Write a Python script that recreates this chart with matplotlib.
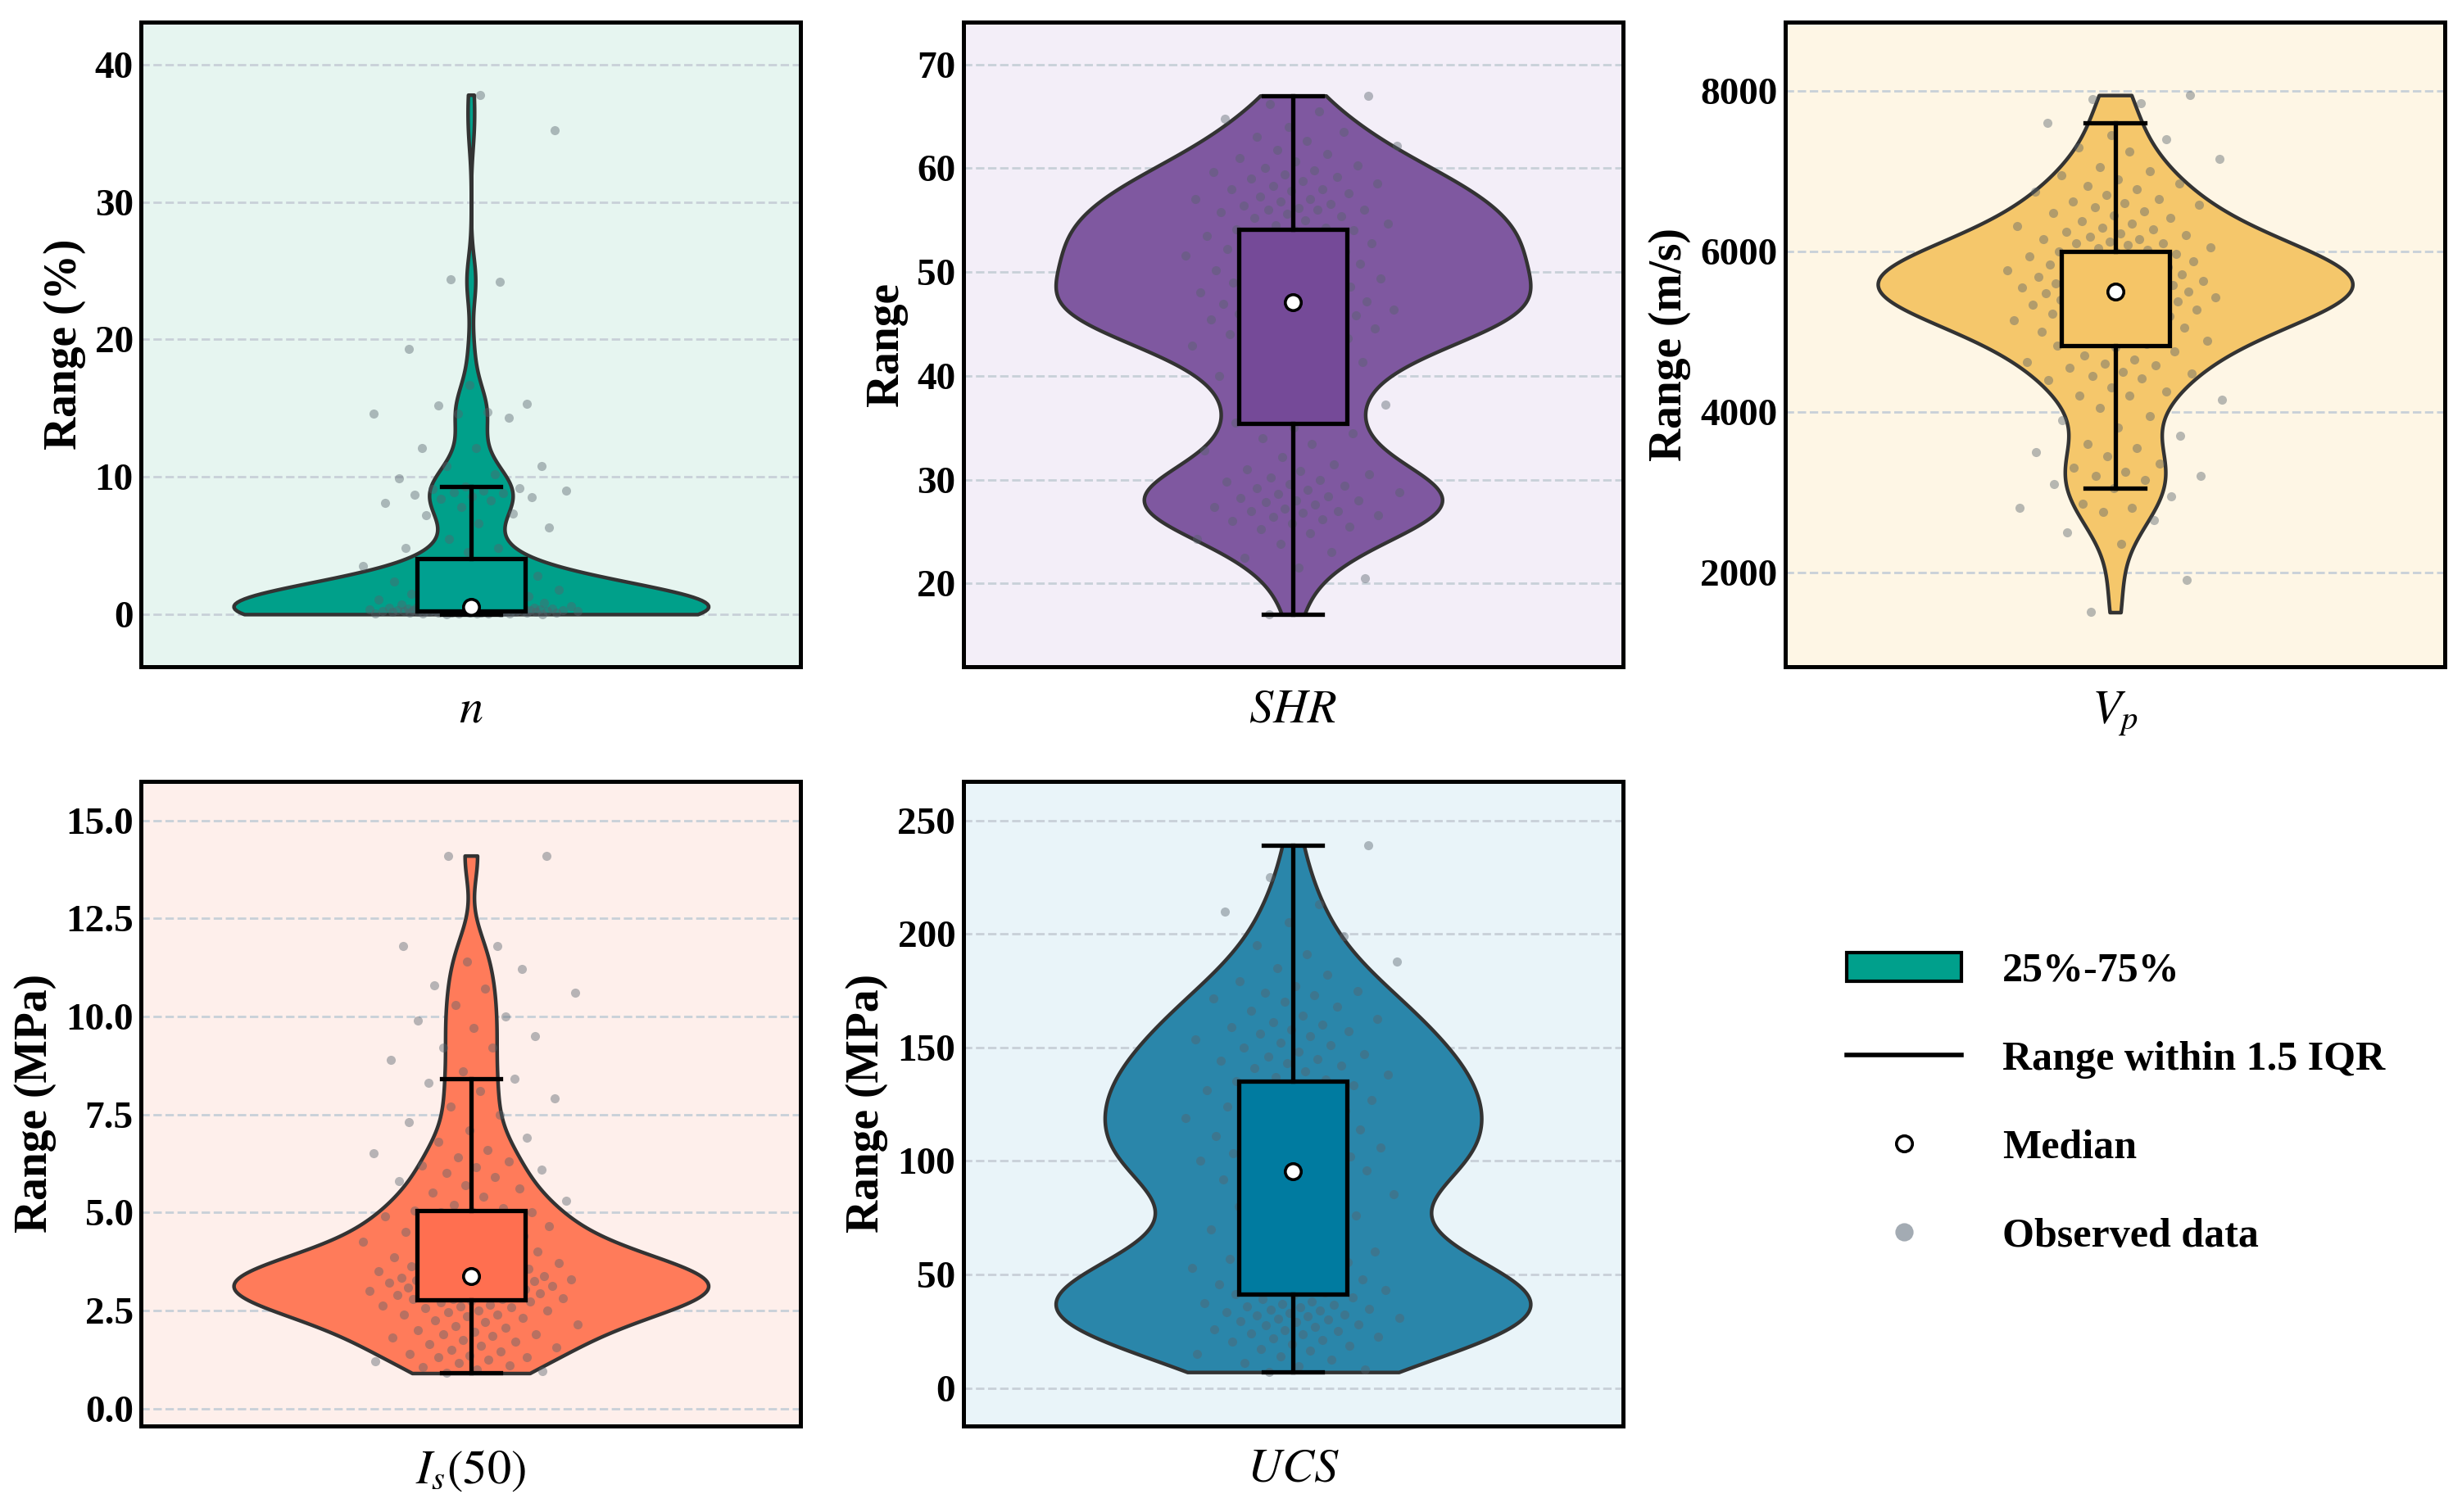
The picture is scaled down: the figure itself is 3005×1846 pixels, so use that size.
import numpy as np
import matplotlib
matplotlib.use("Agg")
import matplotlib.pyplot as plt
from matplotlib.patches import Patch, Rectangle
from matplotlib.lines import Line2D

plt.rcParams["font.family"] = ["Liberation Serif", "DejaVu Serif"]
plt.rcParams["mathtext.fontset"] = "stix"

n_vals = [0.0, 0.02, 0.03, 0.05, 0.05, 0.06, 0.08, 0.08, 0.1, 0.1, 0.1, 0.11, 0.12, 0.12, 0.13,
          0.14, 0.15, 0.15, 0.15, 0.16, 0.17, 0.18, 0.18, 0.19, 0.2, 0.2, 0.2, 0.21, 0.21, 0.22,
          0.22, 0.23, 0.23, 0.23, 0.24, 0.24, 0.24, 0.25, 0.25, 0.25,
          0.26, 0.26, 0.27, 0.27, 0.28, 0.28, 0.29, 0.29, 0.3, 0.3, 0.3, 0.31, 0.31, 0.32, 0.32,
          0.33, 0.33, 0.34, 0.34, 0.35, 0.35, 0.36, 0.36, 0.37, 0.38, 0.38, 0.39, 0.4, 0.4, 0.41,
          0.42, 0.42, 0.43, 0.44, 0.45, 0.46, 0.47, 0.48, 0.49, 0.5,
          0.52, 0.55, 0.58, 0.6, 0.62, 0.65, 0.68, 0.7, 0.75, 0.8, 0.85, 0.9, 0.95, 1.0, 1.0,
          1.05, 1.1, 1.2, 1.3, 1.4, 1.5, 1.6, 1.7, 1.8, 1.9, 2.0, 2.1, 2.2, 2.4, 2.5,
          2.6, 2.8, 3.0, 3.1, 3.2, 3.4, 3.5, 3.6, 3.8, 3.9,
          4.5, 4.8, 4.8, 5.5, 6.3, 6.6, 7.2, 7.3, 7.8, 8.1, 8.3, 8.4, 8.5, 8.6, 8.7,
          8.8, 8.9, 9.0, 9.0, 9.1, 9.2, 9.3, 9.9, 10.2, 10.8, 10.8, 12.1, 12.1, 14.3, 14.6,
          14.6, 14.7, 15.2, 15.3, 16.7, 19.3, 24.2, 24.4, 35.2, 37.8]

shr_vals = [17.0, 20.5, 21.5, 22.5, 23.0, 23.8, 24.3, 24.8,
            25.2, 25.5, 25.8, 26.0, 26.2, 26.4, 26.6, 26.8, 27.0, 27.0,
            27.2, 27.4, 27.6, 27.8, 28.0, 28.0, 28.2, 28.4, 28.6, 28.8,
            29.0, 29.2, 29.4, 29.6, 29.8, 30.0, 30.2, 30.5, 30.8, 31.0,
            31.5, 32.2, 32.8, 33.4, 34.0, 34.5, 35.0,
            35.5, 36.0, 36.6, 37.2, 37.8, 38.4, 39.0, 39.5, 40.0, 40.5, 41.0, 41.3, 41.6, 42.0,
            42.3, 42.6, 42.9, 43.2, 43.4, 43.6, 43.8, 44.0, 44.2, 44.4,
            44.6, 44.8, 45.0, 45.0, 45.2, 45.4, 45.5, 45.6, 45.8, 46.0,
            46.0, 46.2, 46.3, 46.4, 46.5, 46.6, 46.7, 46.8, 46.9, 47.0, 47.0,
            47.2, 47.4, 47.6, 47.8, 48.0, 48.0, 48.2, 48.4, 48.6, 48.8,
            49.0, 49.0, 49.2, 49.4, 49.6, 49.8, 50.0, 50.0, 50.2, 50.4,
            50.6, 50.8, 51.0, 51.0, 51.2, 51.4, 51.6, 51.8, 52.0, 52.0,
            52.0, 52.2, 52.4, 52.6, 52.8, 53.0, 53.0, 53.2, 53.4, 53.5,
            53.6, 53.8, 54.0, 54.0, 54.1,
            54.3, 54.5, 54.7, 55.0, 55.2, 55.4, 55.6, 55.8, 56.0, 56.0,
            56.0, 56.2, 56.4, 56.6, 56.8, 57.0, 57.0, 57.3, 57.6, 57.8,
            58.0, 58.0, 58.3, 58.5, 58.8, 59.0, 59.2, 59.4, 59.6, 59.8, 60.0,
            60.3, 60.7, 61.0, 61.4, 61.8, 62.2, 62.6, 63.0, 63.5, 64.0, 64.8, 65.5, 66.2, 67.0]

vp_vals = [1500, 1900, 2350, 2500, 2650, 2750, 2800, 2800, 2850, 2950,
           3050, 3100, 3150, 3200, 3200, 3250, 3300, 3350, 3450, 3500, 3550, 3600, 3700,
           3800, 3900, 3950, 4050, 4150, 4200, 4200, 4250, 4300, 4400,
           4420, 4450, 4480, 4500, 4550, 4580, 4600, 4620, 4650, 4700, 4750, 4800,
           4830, 4850, 4870, 4890, 4900, 4920, 4950, 4970, 5000, 5000, 5020, 5050, 5070, 5090, 5100,
           5120, 5140, 5150, 5170, 5190, 5200, 5220, 5240, 5250, 5270, 5290, 5300, 5310, 5320, 5340,
           5350, 5360, 5380, 5390, 5400, 5410, 5420, 5430, 5440, 5450, 5460, 5470, 5480, 5480, 5490,
           5500, 5510, 5520, 5530, 5540, 5550, 5560, 5570, 5580, 5590, 5600, 5610, 5620, 5630, 5640,
           5650, 5660, 5670, 5680, 5690, 5700, 5710, 5720, 5730, 5750, 5760, 5770, 5780, 5800, 5810,
           5820, 5840, 5850, 5860, 5880, 5890, 5900, 5910, 5920, 5940, 5950, 5960, 5970, 5990, 6000,
           6020, 6040, 6050, 6080, 6100, 6100, 6120, 6150, 6150, 6180, 6200, 6220, 6250, 6280, 6300,
           6320, 6350, 6380, 6420, 6450, 6480, 6500, 6550, 6580, 6600, 6620, 6650, 6700, 6750, 6780,
           6820, 6850, 6900, 6950, 7000, 7050, 7150, 7250, 7300, 7400, 7450, 7600, 7850, 7900, 7950]

is_vals = [0.9, 0.95, 1.0, 1.05, 1.1, 1.15, 1.2, 1.25, 1.3, 1.3, 1.35, 1.4, 1.45, 1.5,
           1.55, 1.6, 1.65, 1.7, 1.75, 1.8, 1.85, 1.9, 1.9, 1.95, 2.0,
           2.05, 2.1, 2.15, 2.2, 2.25, 2.3, 2.35, 2.4, 2.4, 2.45, 2.5, 2.5,
           2.55, 2.58, 2.6, 2.62, 2.65, 2.7, 2.72, 2.75,
           2.78, 2.8, 2.8, 2.82, 2.84, 2.85, 2.87, 2.88, 2.9, 2.9, 2.92, 2.94, 2.95, 2.97, 2.98,
           3.0, 3.0, 3.02, 3.04, 3.05, 3.07, 3.08, 3.1, 3.1, 3.12, 3.14, 3.15, 3.17, 3.18, 3.2,
           3.2, 3.22, 3.24, 3.25, 3.26, 3.27, 3.28, 3.29, 3.3, 3.31, 3.32, 3.33, 3.34, 3.35, 3.36,
           3.38, 3.4, 3.42, 3.45, 3.48, 3.5, 3.5, 3.53, 3.56, 3.6, 3.62, 3.65, 3.68, 3.7, 3.72,
           3.75, 3.8, 3.82, 3.85, 3.9, 3.95, 4.0,
           4.05, 4.1, 4.15, 4.2, 4.25, 4.3, 4.35, 4.4, 4.45, 4.5, 4.55, 4.6, 4.65, 4.7, 4.75,
           4.8, 4.85, 4.9, 4.95, 5.0, 5.0, 5.02, 5.04,
           5.1, 5.2, 5.3, 5.4, 5.5, 5.6, 5.7, 5.8, 5.9, 6.0, 6.1, 6.15, 6.2, 6.3, 6.4, 6.5,
           6.6, 6.8, 6.9, 7.1, 7.3, 7.5, 7.7, 7.9, 8.1, 8.3, 8.4,
           8.6, 8.9, 9.2, 9.2, 9.5, 9.7, 9.9, 10.0, 10.3, 10.6, 10.7, 10.8, 11.2, 11.4, 11.8, 11.8,
           14.1, 14.1]

ucs_vals = [7, 8, 9.5, 11, 12.5, 14, 15, 16.5, 17, 18.5, 19.5,
            20.5, 21, 22, 22.5, 23.5, 24, 25, 25.5, 26, 27, 27.5, 28, 29, 29.5,
            30, 30.5, 31, 31.5, 32, 32.5, 33, 33.5, 34, 34.5, 35, 35.5, 36, 36.5, 37, 37.5, 38, 39, 40, 41,
            41.5, 42, 42.5, 43, 43.5, 44, 44.5, 45, 45.5, 46, 47, 48, 49, 50,
            51, 52, 53, 54, 55, 55.5, 56, 57, 58, 59, 60,
            62, 64, 66, 68, 70, 72, 74,
            76, 78, 80, 82, 84, 85.5, 87, 88.5, 90, 91, 92, 93.5, 95,
            96, 97, 97.5, 98.5, 99, 100, 100.5, 101, 102, 103, 103.5, 104, 105, 106, 107, 108, 109, 110,
            111, 112, 113, 114, 115, 116, 117, 118, 119, 120, 121, 122, 123, 124, 125,
            126, 127, 128, 129, 130, 130.5, 131, 132, 133, 133.5, 134, 135,
            136, 137, 138, 139.5, 141, 142, 143, 144, 145, 146, 147, 148, 150,
            151, 152, 153.5, 155, 156, 157, 158, 159, 160, 161, 162.5, 164,
            166, 168, 170, 171.5, 173, 174, 175, 177, 179,
            182, 185, 188, 191, 195, 199, 205, 210, 213, 225, 239]

datasets = [n_vals, shr_vals, vp_vals, is_vals, ucs_vals]
names = [r"$n$", r"$SHR$", r"$V_p$", r"$I_s(50)$", r"$UCS$"]
ylabels = ["Range (%)", "Range", "Range (m/s)", "Range (MPa)", "Range (MPa)"]
yticks = [[0, 10, 20, 30, 40], [20, 30, 40, 50, 60, 70], [2000, 4000, 6000, 8000],
          [0, 2.5, 5, 7.5, 10, 12.5, 15], [0, 50, 100, 150, 200, 250]]
ylims = [(-3.8, 43.1), (12.0, 74.1), (824, 8863), (-0.44, 16.0), (-16.6, 267.3)]
bg_colors = ["#E6F5F0", "#F3EEF8", "#FEF6E5", "#FEEFEB", "#E9F4F9"]
violin_colors = ["#00A08A", "#7F58A0", "#F5C76B", "#FF7B5A", "#2A86AA"]
box_colors = ["#00A090", "#754A98", "#F5C567", "#FF6F50", "#007BA0"]
bw = [0.28, 0.24, 0.3, 0.25, 0.3]

fig, axes = plt.subplots(2, 3, figsize=(15.025, 9.23), dpi=200)
fig.subplots_adjust(left=0.0574, right=0.993, top=0.9855, bottom=0.0571,
                    wspace=0.247, hspace=0.178)
ax_list = [axes[0, 0], axes[0, 1], axes[0, 2], axes[1, 0], axes[1, 1]]


def jitter(k, spread):
    u = (np.arange(k) * 0.6180339887 + 0.31) % 1.0
    return spread * np.arctanh(0.93 * (2 * u - 1))


for i, ax in enumerate(ax_list):
    vals = np.array(datasets[i], dtype=float)
    ax.set_facecolor(bg_colors[i])
    parts = ax.violinplot([vals], positions=[0], widths=0.72, showextrema=False,
                          bw_method=bw[i], points=300)
    for body in parts["bodies"]:
        body.set_alpha(None)
        body.set_facecolor(violin_colors[i])
        body.set_edgecolor("#333333")
        body.set_linewidth(1.6)
        body.set_zorder(2)

    ax.scatter(jitter(len(vals), 0.1), vals, s=16, color="#56626B", alpha=0.42,
               linewidths=0, zorder=3)

    q1, med, q3 = np.percentile(vals, [25, 50, 75])
    iqr = q3 - q1
    lo = vals[vals >= q1 - 1.5 * iqr].min()
    hi = vals[vals <= q3 + 1.5 * iqr].max()
    ax.add_patch(Rectangle((-0.082, q1), 0.164, q3 - q1, facecolor=box_colors[i],
                           edgecolor="black", linewidth=1.9, zorder=4))
    ax.plot([0, 0], [lo, q1], color="black", lw=1.9, zorder=4)
    ax.plot([0, 0], [q3, hi], color="black", lw=1.9, zorder=4)
    ax.plot([-0.045, 0.045], [lo, lo], color="black", lw=1.9, zorder=4)
    ax.plot([-0.045, 0.045], [hi, hi], color="black", lw=1.9, zorder=4)
    ax.plot(0, med, "o", ms=7, mfc="white", mec="black", mew=1.3, zorder=5)

    ax.set_xlim(-0.5, 0.5)
    ax.set_ylim(*ylims[i])
    ax.set_xticks([0])
    ax.set_xticklabels([names[i]], fontsize=21)
    ax.set_yticks(yticks[i])
    if i == 3:
        ax.set_yticklabels(["%.1f" % t for t in yticks[i]])
    ax.tick_params(axis="y", length=0, labelsize=17)
    ax.tick_params(axis="x", length=0, pad=10)
    for lbl in ax.get_yticklabels():
        lbl.set_fontweight("bold")
    ax.set_ylabel(ylabels[i], fontsize=20, fontweight="bold")
    ax.yaxis.grid(True, linestyle="--", color="#C8D0D8", linewidth=1.0)
    ax.set_axisbelow(True)
    for sp in ax.spines.values():
        sp.set_linewidth(1.8)
        sp.set_color("black")

axes[1, 2].axis("off")

handles = [
    Patch(facecolor="#00A08C", edgecolor="black", linewidth=1.5),
    Line2D([], [], color="black", lw=2),
    Line2D([], [], marker="o", ls="", mfc="white", mec="black", ms=7, mew=1.3),
    Line2D([], [], marker="o", ls="", color="#A3ABB3", ms=7),
]
labels = ["25%-75%", "Range within 1.5 IQR", "Median", "Observed data"]
fig.legend(handles, labels, loc="center left", bbox_to_anchor=(0.735, 0.270),
           frameon=False, prop={"size": 18, "weight": "bold"},
           handlelength=2.8, handletextpad=1.0, labelspacing=1.24)

fig.savefig("out.png", dpi=200)
